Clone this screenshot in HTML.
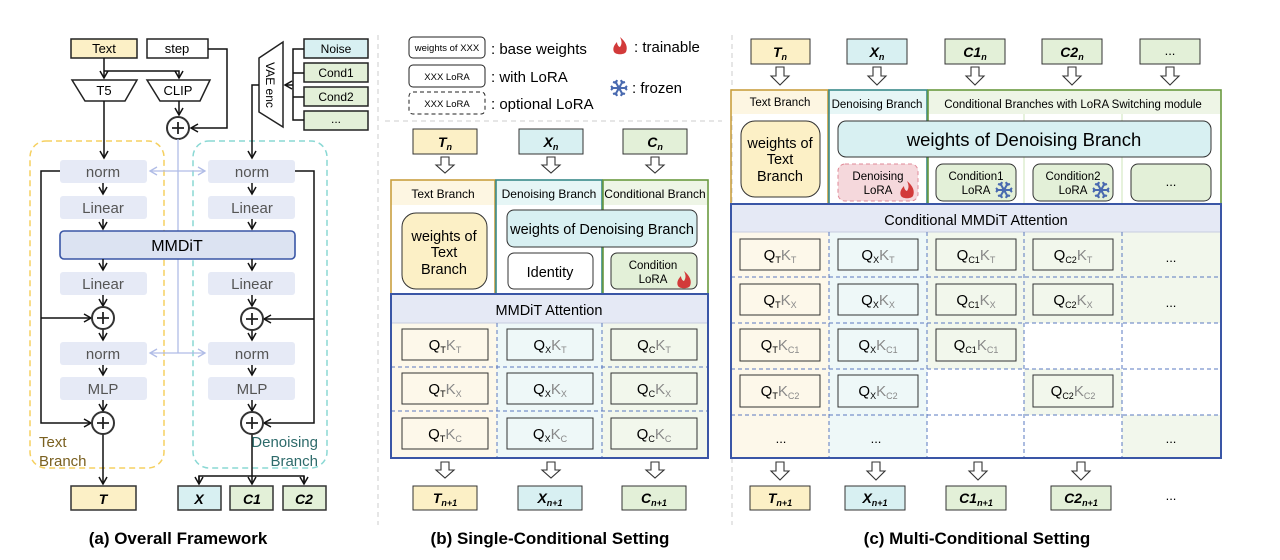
<!DOCTYPE html>
<html><head><meta charset="utf-8"><style>
html,body{margin:0;padding:0;background:#fff;}
svg{display:block;font-family:"Liberation Sans",Arial,sans-serif;}
</style></head><body>
<svg width="1280" height="560" viewBox="0 0 1280 560" xmlns="http://www.w3.org/2000/svg">
<defs>
<marker id="ab" markerWidth="10" markerHeight="10" refX="8" refY="5" orient="auto" markerUnits="userSpaceOnUse"><path d="M1,1 L8,5 L1,9" fill="none" stroke="#111" stroke-width="1.5"/></marker>
<marker id="al" markerWidth="10" markerHeight="10" refX="8" refY="5" orient="auto-start-reverse" markerUnits="userSpaceOnUse"><path d="M1,1 L8,5 L1,9" fill="none" stroke="#b0bce6" stroke-width="1.3"/></marker>
<g id="fire"><path d="M0,-9 C6,-4 8,1 6,6 C4,9 -4,9 -6,6 C-8,2 -5,-2 -3,-4 C-3,-1 -1,1 0,1 C2,-2 2,-5 0,-9Z" fill="#d23a3a"/></g>
<g id="snow" stroke="#4a6ab0" stroke-width="2" fill="none"><path d="M-8,0 H8 M-4,-7 L4,7 M-4,7 L4,-7 M-8,-2 L-6,0 L-8,2 M8,-2 L6,0 L8,2 M-6,-6 L-3,-5 L-2,-8 M6,6 L3,5 L2,8 M6,-6 L3,-5 L2,-8 M-6,6 L-3,5 L-2,8"/><circle r="2.5" fill="#4a6ab0" stroke="none"/></g>
</defs>

<line x1="378" y1="35" x2="378" y2="525" stroke="#ccc" stroke-dasharray="5,4"/>
<line x1="732" y1="35" x2="732" y2="525" stroke="#ccc" stroke-dasharray="5,4"/>
<line x1="385" y1="121" x2="722" y2="121" stroke="#ccc" stroke-dasharray="5,4"/>

<!-- ===== Panel A ===== -->
<g font-size="13" stroke-width="1.5">
<rect x="30" y="141" width="134" height="327" rx="16" fill="none" stroke="#f5d060" stroke-dasharray="6,4" stroke-width="1.5"/>
<rect x="193" y="141" width="134" height="327" rx="16" fill="none" stroke="#8ad8d4" stroke-dasharray="6,4" stroke-width="1.5"/>

<rect x="71" y="39" width="66" height="19" fill="#fcf0c6" stroke="#222"/>
<text x="104" y="53" text-anchor="middle">Text</text>
<rect x="147" y="39" width="61" height="19" fill="#fff" stroke="#222"/>
<text x="177" y="53" text-anchor="middle">step</text>
<polygon points="72,80 137,80 125,101 85,101" fill="#fff" stroke="#222"/>
<text x="104" y="95" text-anchor="middle">T5</text>
<polygon points="147,80 210,80 200,101 160,101" fill="#fff" stroke="#222"/>
<text x="178" y="95" text-anchor="middle">CLIP</text>
<path d="M104,58 V78" stroke="#111" fill="none" marker-end="url(#ab)"/>
<path d="M104,71 H179 V78" stroke="#111" fill="none" marker-end="url(#ab)"/>
<path d="M179,101 V115" stroke="#111" fill="none" marker-end="url(#ab)"/>
<path d="M208,49 H227 V128 H191" stroke="#111" fill="none" marker-end="url(#ab)"/>
<circle cx="178" cy="128" r="11" fill="#fff" stroke="#333" stroke-width="2"/>
<path d="M172,128 h12 M178,122 v12" stroke="#222" stroke-width="1.8"/>
<line x1="178" y1="139" x2="178" y2="353" stroke="#b0bce6" stroke-width="1.3"/>
<path d="M150,171 H205" stroke="#b0bce6" stroke-width="1.3" fill="none" marker-start="url(#al)" marker-end="url(#al)"/>
<path d="M150,353 H205" stroke="#b0bce6" stroke-width="1.3" fill="none" marker-start="url(#al)" marker-end="url(#al)"/>

<polygon points="259,58 283,42 283,127 259,112" fill="#fff" stroke="#222"/>
<text x="266" y="85" font-size="12" text-anchor="middle" transform="rotate(90 266 85)">VAE enc</text>
<rect x="304" y="39" width="64" height="19" fill="#d8f0f2" stroke="#222"/>
<text x="336" y="53" text-anchor="middle" font-size="12">Noise</text>
<rect x="304" y="63" width="64" height="19" fill="#e3f0d8" stroke="#222"/>
<text x="336" y="77" text-anchor="middle" font-size="12">Cond1</text>
<rect x="304" y="87" width="64" height="19" fill="#e3f0d8" stroke="#222"/>
<text x="336" y="101" text-anchor="middle" font-size="12">Cond2</text>
<rect x="304" y="111" width="64" height="19" fill="#e3f0d8" stroke="#222"/>
<text x="336" y="123" text-anchor="middle" font-size="12">...</text>
<path d="M304,49 H293 V120 H304 M293,73 H304 M293,97 H304" stroke="#111" fill="none"/>
<path d="M293,85 H285" stroke="#111" fill="none" marker-end="url(#ab)"/>
<path d="M259,85 H252 V158" stroke="#111" fill="none" marker-end="url(#ab)"/>
<path d="M104,101 V158" stroke="#111" fill="none" marker-end="url(#ab)"/>

<g fill="#e6eaf6" stroke="none">
<rect x="60" y="160" width="87" height="23" rx="3"/><rect x="208" y="160" width="87" height="23" rx="3"/>
<rect x="60" y="196" width="87" height="23" rx="3"/><rect x="208" y="196" width="87" height="23" rx="3"/>
<rect x="60" y="272" width="87" height="23" rx="3"/><rect x="208" y="272" width="87" height="23" rx="3"/>
<rect x="60" y="342" width="87" height="23" rx="3"/><rect x="208" y="342" width="87" height="23" rx="3"/>
<rect x="60" y="377" width="87" height="23" rx="3"/><rect x="208" y="377" width="87" height="23" rx="3"/>
</g>
<g fill="#555" font-size="15" text-anchor="middle">
<text x="103" y="177">norm</text><text x="252" y="177">norm</text>
<text x="103" y="213">Linear</text><text x="252" y="213">Linear</text>
<text x="103" y="289">Linear</text><text x="252" y="289">Linear</text>
<text x="103" y="359">norm</text><text x="252" y="359">norm</text>
<text x="103" y="394">MLP</text><text x="252" y="394">MLP</text>
</g>
<rect x="60" y="231" width="235" height="28" rx="4" fill="#dce3f2" stroke="#3a56a6" stroke-width="1.6"/>
<text x="177" y="251" text-anchor="middle" font-size="16">MMDiT</text>

<g stroke="#111" fill="none">
<path d="M103,183 V194" marker-end="url(#ab)"/><path d="M252,183 V194" marker-end="url(#ab)"/>
<path d="M103,219 V229" marker-end="url(#ab)"/><path d="M252,219 V229" marker-end="url(#ab)"/>
<path d="M103,259 V270" marker-end="url(#ab)"/><path d="M252,259 V270" marker-end="url(#ab)"/>
<path d="M103,295 V306" marker-end="url(#ab)"/><path d="M252,295 V306" marker-end="url(#ab)"/>
<path d="M103,329 V340" marker-end="url(#ab)"/><path d="M252,329 V340" marker-end="url(#ab)"/>
<path d="M103,365 V375" marker-end="url(#ab)"/><path d="M252,365 V375" marker-end="url(#ab)"/>
<path d="M103,400 V411" marker-end="url(#ab)"/><path d="M252,400 V411" marker-end="url(#ab)"/>
<path d="M60,171 H41 V423 H91" marker-end="url(#ab)"/>
<path d="M41,318 H91" marker-end="url(#ab)"/>
<path d="M295,171 H314 V423 H264" marker-end="url(#ab)"/>
<path d="M314,319 H264" marker-end="url(#ab)"/>
<path d="M103,434 V484" marker-end="url(#ab)"/>
<path d="M252,434 V484" marker-end="url(#ab)"/>
<path d="M199,484 V476 H304 V484" />
<path d="M199,476 V484" marker-end="url(#ab)"/><path d="M304,476 V484" marker-end="url(#ab)"/>
</g>
<g fill="#fff" stroke="#333" stroke-width="2">
<circle cx="103" cy="318" r="11"/><circle cx="252" cy="319" r="11"/>
<circle cx="103" cy="423" r="11"/><circle cx="252" cy="423" r="11"/>
</g>
<path d="M97,318h12M103,312v12 M246,319h12M252,313v12 M97,423h12M103,417v12 M246,423h12M252,417v12" stroke="#222" stroke-width="1.8"/>
<text x="39" y="447" font-size="15" fill="#7a6020">Text</text>
<text x="39" y="466" font-size="15" fill="#7a6020">Branch</text>
<text x="318" y="447" font-size="15" fill="#2e6b6b" text-anchor="end">Denoising</text>
<text x="318" y="466" font-size="15" fill="#2e6b6b" text-anchor="end">Branch</text>

<rect x="71" y="486" width="65" height="24" fill="#fcf0c6" stroke="#333"/>
<text x="103" y="504" text-anchor="middle" font-weight="bold" font-style="italic" font-size="14">T</text>
<rect x="178" y="486" width="43" height="24" fill="#d8f0f2" stroke="#333"/>
<text x="199" y="504" text-anchor="middle" font-weight="bold" font-style="italic" font-size="14">X</text>
<rect x="230" y="486" width="43" height="24" fill="#e3f0d8" stroke="#333"/>
<text x="252" y="504" text-anchor="middle" font-weight="bold" font-style="italic" font-size="14">C1</text>
<rect x="283" y="486" width="43" height="24" fill="#e3f0d8" stroke="#333"/>
<text x="304" y="504" text-anchor="middle" font-weight="bold" font-style="italic" font-size="14">C2</text>
</g>
<text x="178" y="544" text-anchor="middle" font-weight="bold" font-size="17">(a) Overall Framework</text>

<!-- ===== Panel B ===== -->
<g font-size="12">
<rect x="409" y="37" width="76" height="21" rx="4" fill="#fff" stroke="#222"/>
<text x="447" y="51" font-size="9.5" text-anchor="middle">weights of  XXX</text>
<rect x="409" y="65" width="76" height="22" rx="4" fill="#fff" stroke="#222"/>
<text x="447" y="80" font-size="9.5" text-anchor="middle">XXX  LoRA</text>
<rect x="409" y="92" width="76" height="22" rx="4" fill="#fff" stroke="#222" stroke-dasharray="4,3"/>
<text x="447" y="107" font-size="9.5" text-anchor="middle">XXX  LoRA</text>
<text x="491" y="54" font-size="15">: base weights</text>
<text x="491" y="82" font-size="15">: with LoRA</text>
<text x="491" y="109" font-size="15">: optional LoRA</text>
<use href="#fire" x="620" y="46"/>
<text x="634" y="52" font-size="15">: trainable</text>
<use href="#snow" x="619" y="88"/>
<text x="632" y="93" font-size="15">: frozen</text>
</g>

<g font-size="13">
<rect x="413" y="129" width="64" height="25" fill="#fcf0c6" stroke="#333"/>
<text x="445" y="147" text-anchor="middle" font-weight="bold" font-style="italic" font-size="14">T<tspan font-size="9" dy="3">n</tspan></text>
<rect x="519" y="129" width="64" height="25" fill="#d8f0f2" stroke="#333"/>
<text x="551" y="147" text-anchor="middle" font-weight="bold" font-style="italic" font-size="14">X<tspan font-size="9" dy="3">n</tspan></text>
<rect x="623" y="129" width="64" height="25" fill="#e3f0d8" stroke="#333"/>
<text x="655" y="147" text-anchor="middle" font-weight="bold" font-style="italic" font-size="14">C<tspan font-size="9" dy="3">n</tspan></text>
<g fill="#fff" stroke="#333" stroke-width="1.1">
<path d="M441,157 h8 v8 h5 l-9,8 l-9,-8 h5z"/><path d="M547,157 h8 v8 h5 l-9,8 l-9,-8 h5z"/><path d="M651,157 h8 v8 h5 l-9,8 l-9,-8 h5z"/>
<path d="M441,462 h8 v8 h5 l-9,8 l-9,-8 h5z"/><path d="M547,462 h8 v8 h5 l-9,8 l-9,-8 h5z"/><path d="M651,462 h8 v8 h5 l-9,8 l-9,-8 h5z"/>
</g>
<rect x="391" y="180" width="104" height="25" fill="#fdf6e2"/>
<rect x="496" y="180" width="106" height="25" fill="#e6f6f6"/>
<rect x="603" y="180" width="104" height="25" fill="#eef5e6"/>
<rect x="391" y="180" width="104" height="114" fill="none" stroke="#c9a040" stroke-width="1.6"/>
<rect x="496" y="180" width="106" height="114" fill="none" stroke="#3a8a8a" stroke-width="1.6"/>
<rect x="603" y="180" width="105" height="114" fill="none" stroke="#6a9a40" stroke-width="1.6"/>
<text x="443" y="198" text-anchor="middle" font-size="12">Text Branch</text>
<text x="549" y="198" text-anchor="middle" font-size="12">Denoising Branch</text>
<text x="655" y="198" text-anchor="middle" font-size="12">Conditional Branch</text>
<rect x="402" y="213" width="85" height="76" rx="14" fill="#fcf0c6" stroke="#333"/>
<text x="444" y="241" text-anchor="middle" font-size="14.5">weights of</text>
<text x="444" y="257" text-anchor="middle" font-size="14.5">Text</text>
<text x="444" y="274" text-anchor="middle" font-size="14.5">Branch</text>
<rect x="507" y="210" width="190" height="37" rx="7" fill="#d8f0f2" stroke="#333"/>
<text x="602" y="234" text-anchor="middle" font-size="14.5">weights of Denoising Branch</text>
<rect x="508" y="253" width="85" height="36" rx="6" fill="#fff" stroke="#333"/>
<text x="550" y="277" text-anchor="middle" font-size="14.5">Identity</text>
<rect x="611" y="253" width="86" height="36" rx="6" fill="#e3f0d8" stroke="#333"/>
<text x="653" y="269" text-anchor="middle" font-size="11.5">Condition</text>
<text x="653" y="283" text-anchor="middle" font-size="11.5">LoRA</text>
<use href="#fire" x="684" y="280"/>
<rect x="391" y="323" width="106" height="135" fill="#fdf8ea"/>
<rect x="497" y="323" width="105" height="135" fill="#eef8f8"/>
<rect x="602" y="323" width="106" height="135" fill="#f2f7ec"/>
<rect x="391" y="295" width="317" height="28" fill="#e5e9f5"/>
<line x1="391" y1="323" x2="708" y2="323" stroke="#c8cde0"/>
<text x="549" y="315" text-anchor="middle" font-size="14.5">MMDiT Attention</text>
<g stroke="#5a78c0" stroke-dasharray="4,3" stroke-width="1">
<line x1="497" y1="323" x2="497" y2="458"/><line x1="602" y1="323" x2="602" y2="458"/>
<line x1="391" y1="367" x2="708" y2="367"/><line x1="391" y1="411" x2="708" y2="411"/>
</g>
<rect x="391" y="294" width="317" height="164" fill="none" stroke="#3a56a6" stroke-width="2"/>
<g fill="none" stroke="#333">
<rect x="402" y="329" width="86" height="31"/><rect x="507" y="329" width="86" height="31"/><rect x="611" y="329" width="86" height="31"/>
<rect x="402" y="373" width="86" height="31"/><rect x="507" y="373" width="86" height="31"/><rect x="611" y="373" width="86" height="31"/>
<rect x="402" y="418" width="86" height="31"/><rect x="507" y="418" width="86" height="31"/><rect x="611" y="418" width="86" height="31"/>
</g>
<g font-size="15" text-anchor="middle">
<text x="445" y="350">Q<tspan font-size="9" dy="3">T</tspan><tspan fill="#888" dy="-3">K</tspan><tspan fill="#888" font-size="9" dy="3">T</tspan></text>
<text x="550" y="350">Q<tspan font-size="9" dy="3">X</tspan><tspan fill="#888" dy="-3">K</tspan><tspan fill="#888" font-size="9" dy="3">T</tspan></text>
<text x="654" y="350">Q<tspan font-size="9" dy="3">C</tspan><tspan fill="#888" dy="-3">K</tspan><tspan fill="#888" font-size="9" dy="3">T</tspan></text>
<text x="445" y="394">Q<tspan font-size="9" dy="3">T</tspan><tspan fill="#888" dy="-3">K</tspan><tspan fill="#888" font-size="9" dy="3">X</tspan></text>
<text x="550" y="394">Q<tspan font-size="9" dy="3">X</tspan><tspan fill="#888" dy="-3">K</tspan><tspan fill="#888" font-size="9" dy="3">X</tspan></text>
<text x="654" y="394">Q<tspan font-size="9" dy="3">C</tspan><tspan fill="#888" dy="-3">K</tspan><tspan fill="#888" font-size="9" dy="3">X</tspan></text>
<text x="445" y="439">Q<tspan font-size="9" dy="3">T</tspan><tspan fill="#888" dy="-3">K</tspan><tspan fill="#888" font-size="9" dy="3">C</tspan></text>
<text x="550" y="439">Q<tspan font-size="9" dy="3">X</tspan><tspan fill="#888" dy="-3">K</tspan><tspan fill="#888" font-size="9" dy="3">C</tspan></text>
<text x="654" y="439">Q<tspan font-size="9" dy="3">C</tspan><tspan fill="#888" dy="-3">K</tspan><tspan fill="#888" font-size="9" dy="3">C</tspan></text>
</g>
<rect x="413" y="486" width="64" height="24" fill="#fcf0c6" stroke="#333"/>
<text x="445" y="503" text-anchor="middle" font-weight="bold" font-style="italic" font-size="14">T<tspan font-size="9" dy="3">n+1</tspan></text>
<rect x="518" y="486" width="64" height="24" fill="#d8f0f2" stroke="#333"/>
<text x="550" y="503" text-anchor="middle" font-weight="bold" font-style="italic" font-size="14">X<tspan font-size="9" dy="3">n+1</tspan></text>
<rect x="622" y="486" width="64" height="24" fill="#e3f0d8" stroke="#333"/>
<text x="654" y="503" text-anchor="middle" font-weight="bold" font-style="italic" font-size="14">C<tspan font-size="9" dy="3">n+1</tspan></text>
</g>
<text x="550" y="544" text-anchor="middle" font-weight="bold" font-size="17">(b) Single-Conditional Setting</text>

<!-- ===== Panel C ===== -->
<g font-size="13">
<rect x="751" y="39" width="59" height="25" fill="#fcf0c6" stroke="#333"/>
<text x="780" y="57" text-anchor="middle" font-weight="bold" font-style="italic" font-size="14">T<tspan font-size="9" dy="3">n</tspan></text>
<rect x="847" y="39" width="60" height="25" fill="#d8f0f2" stroke="#333"/>
<text x="877" y="57" text-anchor="middle" font-weight="bold" font-style="italic" font-size="14">X<tspan font-size="9" dy="3">n</tspan></text>
<rect x="945" y="39" width="60" height="25" fill="#e3f0d8" stroke="#333"/>
<text x="975" y="57" text-anchor="middle" font-weight="bold" font-style="italic" font-size="14">C1<tspan font-size="9" dy="3">n</tspan></text>
<rect x="1042" y="39" width="60" height="25" fill="#e3f0d8" stroke="#333"/>
<text x="1072" y="57" text-anchor="middle" font-weight="bold" font-style="italic" font-size="14">C2<tspan font-size="9" dy="3">n</tspan></text>
<rect x="1140" y="39" width="60" height="25" fill="#e3f0d8" stroke="#333"/>
<text x="1170" y="55" text-anchor="middle" font-size="13">...</text>
<g fill="#fff" stroke="#333" stroke-width="1.1">
<path d="M776,67 h8 v9 h5 l-9,9 l-9,-9 h5z"/><path d="M873,67 h8 v9 h5 l-9,9 l-9,-9 h5z"/><path d="M971,67 h8 v9 h5 l-9,9 l-9,-9 h5z"/><path d="M1068,67 h8 v9 h5 l-9,9 l-9,-9 h5z"/><path d="M1166,67 h8 v9 h5 l-9,9 l-9,-9 h5z"/>
<path d="M776,462 h8 v9 h5 l-9,9 l-9,-9 h5z"/><path d="M872,462 h8 v9 h5 l-9,9 l-9,-9 h5z"/><path d="M974,462 h8 v9 h5 l-9,9 l-9,-9 h5z"/><path d="M1077,462 h8 v9 h5 l-9,9 l-9,-9 h5z"/>
</g>
<rect x="731" y="90" width="97" height="24" fill="#fdf6e2"/>
<rect x="829" y="90" width="98" height="24" fill="#e6f6f6"/>
<rect x="928" y="90" width="293" height="24" fill="#eef5e6"/>
<line x1="1024" y1="114" x2="1024" y2="203" stroke="#cde6b8"/>
<line x1="1122" y1="114" x2="1122" y2="203" stroke="#cde6b8"/>
<rect x="731" y="90" width="97" height="114" fill="none" stroke="#c9a040" stroke-width="1.6"/>
<rect x="829" y="90" width="98" height="114" fill="none" stroke="#3a8a8a" stroke-width="1.6"/>
<rect x="928" y="90" width="293" height="114" fill="none" stroke="#6a9a40" stroke-width="1.6"/>
<text x="780" y="106" text-anchor="middle" font-size="11.5">Text Branch</text>
<text x="877" y="108" text-anchor="middle" font-size="11.5">Denoising Branch</text>
<text x="1073" y="108" text-anchor="middle" font-size="11.5">Conditional Branches with LoRA Switching module</text>
<rect x="741" y="121" width="79" height="76" rx="14" fill="#fcf0c6" stroke="#333"/>
<text x="780" y="148" text-anchor="middle" font-size="14.5">weights of</text>
<text x="780" y="164" text-anchor="middle" font-size="14.5">Text</text>
<text x="780" y="181" text-anchor="middle" font-size="14.5">Branch</text>
<rect x="838" y="121" width="373" height="36" rx="8" fill="#d8f0f2" stroke="#333"/>
<text x="1024" y="146" text-anchor="middle" font-size="18.5">weights of Denoising Branch</text>
<rect x="838" y="164" width="80" height="37" rx="7" fill="#f5d8dc" stroke="#e08a98" stroke-dasharray="4,3"/>
<text x="878" y="180" text-anchor="middle" font-size="11.5">Denoising</text>
<text x="878" y="194" text-anchor="middle" font-size="11.5">LoRA</text>
<use href="#fire" x="907" y="190"/>
<rect x="936" y="164" width="80" height="37" rx="7" fill="#e3f0d8" stroke="#333"/>
<text x="976" y="180" text-anchor="middle" font-size="11.5">Condition1</text>
<text x="976" y="194" text-anchor="middle" font-size="11.5">LoRA</text>
<use href="#snow" x="1004" y="190"/>
<rect x="1033" y="164" width="80" height="37" rx="7" fill="#e3f0d8" stroke="#333"/>
<text x="1073" y="180" text-anchor="middle" font-size="11.5">Condition2</text>
<text x="1073" y="194" text-anchor="middle" font-size="11.5">LoRA</text>
<use href="#snow" x="1101" y="190"/>
<rect x="1131" y="164" width="80" height="37" rx="7" fill="#e3f0d8" stroke="#333"/>
<text x="1171" y="186" text-anchor="middle" font-size="13">...</text>

<rect x="731" y="232" width="98" height="226" fill="#fdf8ea"/>
<rect x="829" y="232" width="98" height="226" fill="#eef8f8"/>
<rect x="927" y="232" width="97" height="137" fill="#f2f7ec"/>
<rect x="1024" y="232" width="98" height="91" fill="#f2f7ec"/>
<rect x="1024" y="369" width="98" height="46" fill="#f2f7ec"/>
<rect x="1122" y="232" width="99" height="91" fill="#f2f7ec"/>
<rect x="1122" y="415" width="99" height="43" fill="#f2f7ec"/>
<rect x="731" y="205" width="490" height="27" fill="#e5e9f5"/>
<line x1="731" y1="232" x2="1221" y2="232" stroke="#c8cde0"/>
<text x="976" y="225" text-anchor="middle" font-size="14.5">Conditional MMDiT Attention</text>
<g stroke="#5a78c0" stroke-dasharray="4,3" stroke-width="1">
<line x1="829" y1="232" x2="829" y2="458"/><line x1="927" y1="232" x2="927" y2="458"/><line x1="1024" y1="232" x2="1024" y2="458"/><line x1="1122" y1="232" x2="1122" y2="458"/>
<line x1="731" y1="277" x2="1221" y2="277"/><line x1="731" y1="323" x2="1221" y2="323"/><line x1="731" y1="369" x2="1221" y2="369"/><line x1="731" y1="415" x2="1221" y2="415"/>
</g>
<rect x="731" y="204" width="490" height="254" fill="none" stroke="#3a56a6" stroke-width="2"/>
<g fill="none" stroke="#333">
<rect x="740" y="239" width="80" height="31"/><rect x="838" y="239" width="80" height="31"/><rect x="936" y="239" width="80" height="31"/><rect x="1033" y="239" width="80" height="31"/>
<rect x="740" y="284" width="80" height="31"/><rect x="838" y="284" width="80" height="31"/><rect x="936" y="284" width="80" height="31"/><rect x="1033" y="284" width="80" height="31"/>
<rect x="740" y="329" width="80" height="32"/><rect x="838" y="329" width="80" height="32"/><rect x="936" y="329" width="80" height="32"/>
<rect x="740" y="375" width="80" height="32"/><rect x="838" y="375" width="80" height="32"/><rect x="1033" y="375" width="80" height="32"/>
</g>
<g font-size="15" text-anchor="middle">
<text x="780" y="260">Q<tspan font-size="9" dy="3">T</tspan><tspan fill="#888" dy="-3">K</tspan><tspan fill="#888" font-size="9" dy="3">T</tspan></text>
<text x="878" y="260">Q<tspan font-size="9" dy="3">X</tspan><tspan fill="#888" dy="-3">K</tspan><tspan fill="#888" font-size="9" dy="3">T</tspan></text>
<text x="976" y="260">Q<tspan font-size="9" dy="3">C1</tspan><tspan fill="#888" dy="-3">K</tspan><tspan fill="#888" font-size="9" dy="3">T</tspan></text>
<text x="1073" y="260">Q<tspan font-size="9" dy="3">C2</tspan><tspan fill="#888" dy="-3">K</tspan><tspan fill="#888" font-size="9" dy="3">T</tspan></text>
<text x="780" y="305">Q<tspan font-size="9" dy="3">T</tspan><tspan fill="#888" dy="-3">K</tspan><tspan fill="#888" font-size="9" dy="3">X</tspan></text>
<text x="878" y="305">Q<tspan font-size="9" dy="3">X</tspan><tspan fill="#888" dy="-3">K</tspan><tspan fill="#888" font-size="9" dy="3">X</tspan></text>
<text x="976" y="305">Q<tspan font-size="9" dy="3">C1</tspan><tspan fill="#888" dy="-3">K</tspan><tspan fill="#888" font-size="9" dy="3">X</tspan></text>
<text x="1073" y="305">Q<tspan font-size="9" dy="3">C2</tspan><tspan fill="#888" dy="-3">K</tspan><tspan fill="#888" font-size="9" dy="3">X</tspan></text>
<text x="780" y="350">Q<tspan font-size="9" dy="3">T</tspan><tspan fill="#888" dy="-3">K</tspan><tspan fill="#888" font-size="9" dy="3">C1</tspan></text>
<text x="878" y="350">Q<tspan font-size="9" dy="3">X</tspan><tspan fill="#888" dy="-3">K</tspan><tspan fill="#888" font-size="9" dy="3">C1</tspan></text>
<text x="976" y="350">Q<tspan font-size="9" dy="3">C1</tspan><tspan fill="#888" dy="-3">K</tspan><tspan fill="#888" font-size="9" dy="3">C1</tspan></text>
<text x="780" y="396">Q<tspan font-size="9" dy="3">T</tspan><tspan fill="#888" dy="-3">K</tspan><tspan fill="#888" font-size="9" dy="3">C2</tspan></text>
<text x="878" y="396">Q<tspan font-size="9" dy="3">X</tspan><tspan fill="#888" dy="-3">K</tspan><tspan fill="#888" font-size="9" dy="3">C2</tspan></text>
<text x="1073" y="396">Q<tspan font-size="9" dy="3">C2</tspan><tspan fill="#888" dy="-3">K</tspan><tspan fill="#888" font-size="9" dy="3">C2</tspan></text>
</g>
<g font-size="13" text-anchor="middle">
<text x="1171" y="262">...</text><text x="1171" y="307">...</text>
<text x="781" y="443">...</text><text x="876" y="443">...</text><text x="1171" y="443">...</text>
<text x="1171" y="500">...</text>
</g>
<rect x="750" y="486" width="60" height="24" fill="#fcf0c6" stroke="#333"/>
<text x="780" y="503" text-anchor="middle" font-weight="bold" font-style="italic" font-size="14">T<tspan font-size="9" dy="3">n+1</tspan></text>
<rect x="845" y="486" width="60" height="24" fill="#d8f0f2" stroke="#333"/>
<text x="875" y="503" text-anchor="middle" font-weight="bold" font-style="italic" font-size="14">X<tspan font-size="9" dy="3">n+1</tspan></text>
<rect x="946" y="486" width="60" height="24" fill="#e3f0d8" stroke="#333"/>
<text x="976" y="503" text-anchor="middle" font-weight="bold" font-style="italic" font-size="14">C1<tspan font-size="9" dy="3">n+1</tspan></text>
<rect x="1051" y="486" width="60" height="24" fill="#e3f0d8" stroke="#333"/>
<text x="1081" y="503" text-anchor="middle" font-weight="bold" font-style="italic" font-size="14">C2<tspan font-size="9" dy="3">n+1</tspan></text>
</g>
<text x="977" y="544" text-anchor="middle" font-weight="bold" font-size="17">(c) Multi-Conditional Setting</text>
</svg>
</body></html>
